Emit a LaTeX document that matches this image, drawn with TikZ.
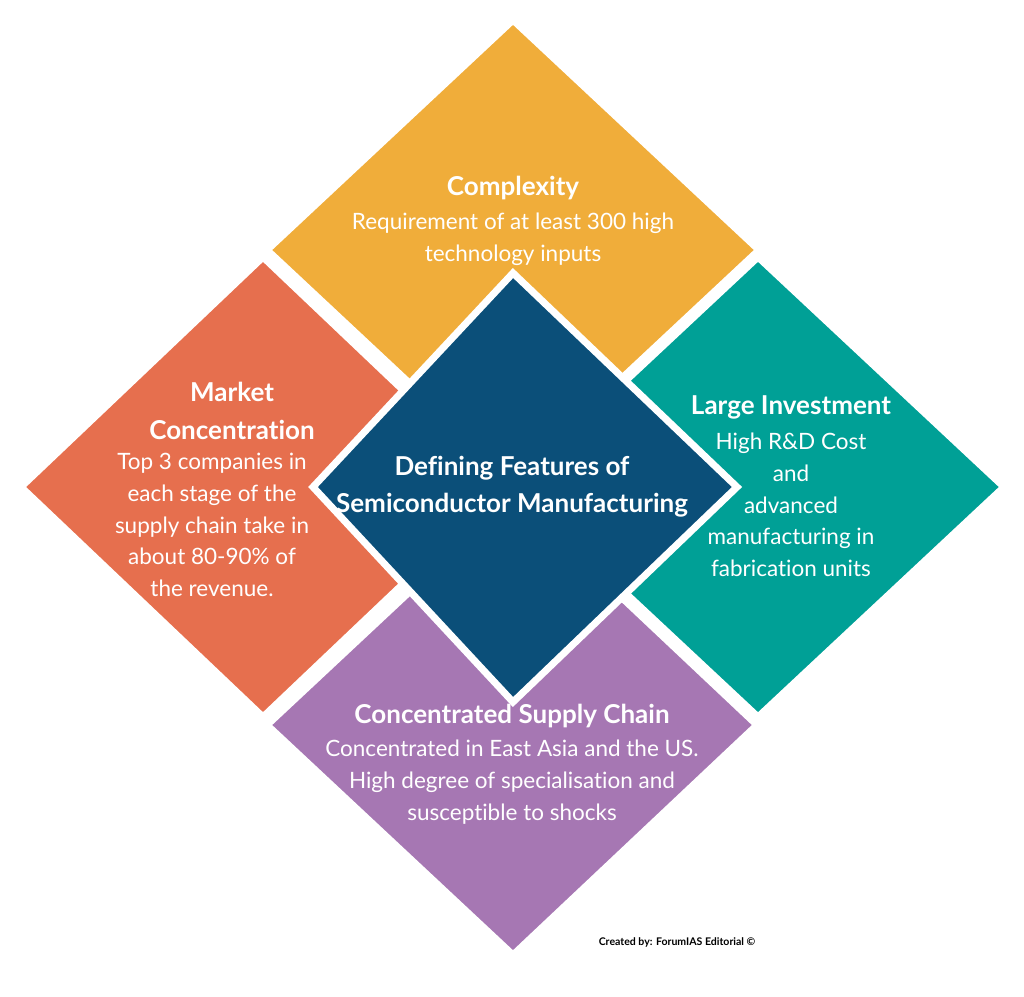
\documentclass[tikz,border=0pt]{standalone}
\usepackage{fontspec}
\setmainfont{Lato}[RawFeature={-liga}]
\definecolor{cplx}{HTML}{F0AD3A}
\definecolor{mkt}{HTML}{E66F4E}
\definecolor{inv}{HTML}{00A096}
\definecolor{sup}{HTML}{A677B3}
\definecolor{core}{HTML}{0B4F79}
\tikzset{
  tile/.style={draw=white, line width=5pt, line join=miter},
  head/.style={text=white, font=\fontsize{18.5}{26.5}\selectfont\bfseries, align=center},
  body/.style={text=white, font=\fontsize{16}{22.5}\selectfont, align=center},
}
\begin{document}
\begin{tikzpicture}[x=0.025cm, y=-0.025cm]
    \useasboundingbox (0,0) rectangle (1024,996);

    % outer tiles
    \fill[cplx, tile] (513,20)--(759,250)--(513,480)--(267,250)--cycle;
    \fill[mkt, tile] (263,257)--(505,487)--(263,717)--(21,487)--cycle;
    \fill[inv, tile] (758,257)--(1004,487)--(758,717)--(512,487)--cycle;
    \fill[sup, tile] (513,495)--(757,725)--(513,955)--(267,725)--cycle;
    % centre tile
    \fill[core, tile] (513,273)--(737,487)--(513,702)--(313,487)--cycle;

    \node[head] (cplxT) at (513,188) {Complexity};
    \node[body] (cplxB) at (513,239) {Requirement of at least 300 high\\technology inputs};

    \node[head] (mktT) at (232,411) {Market\\Concentration};
    \node[body] (mktB) at (212,525) {Top 3 companies in\\each stage of the\\supply chain take in\\about 80-90\% of\\the revenue.};

    \node[head] (invT) at (791,407) {Large Investment};
    \node[body] (invB) at (791,505) {High R\&D Cost\\and\\advanced\\manufacturing in\\fabrication units};

    \node[head] (coreT) at (512,487) {Defining Features of\\Semiconductor Manufacturing};

    \node[head] (supT) at (512,716) {Concentrated Supply Chain};
    \node[body] (supB) at (512,782) {Concentrated in East Asia and the US.\\High degree of specialisation and\\susceptible to shocks};

    \node[font=\fontsize{7.5}{9}\selectfont\bfseries] (credit) at (677,942) {Created by: ForumIAS Editorial ©};
\end{tikzpicture}
\end{document}
